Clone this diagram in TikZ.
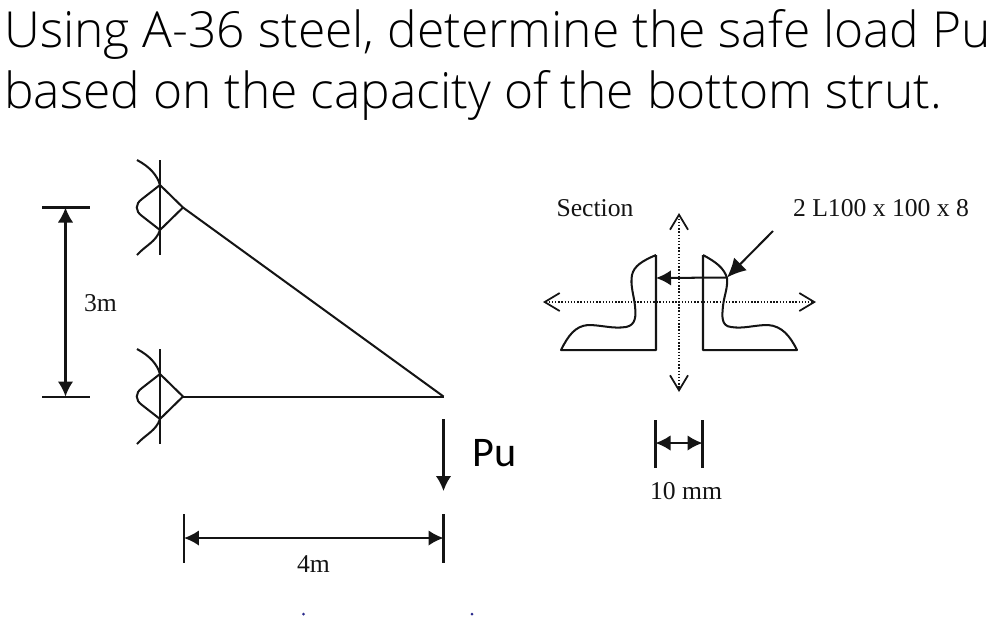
\documentclass[tikz,border=0pt]{standalone}
\usepackage{fontspec}
\setmainfont{Liberation Serif}
\newfontfamily\headfont{Open Sans Light}
\newfontfamily\loadfont{Carlito}
\usetikzlibrary{arrows.meta}
\definecolor{inkblack}{HTML}{141414}
\definecolor{dotblue}{HTML}{2A2A8C}
\tikzset{
    member/.style={draw=inkblack, line width=1.15pt},
    thinline/.style={draw=inkblack, line width=1.15pt},
    dimarrow/.style={draw=inkblack, line width=1.15pt, {Latex[length=3mm,width=3.1mm]}-{Latex[length=3mm,width=3.1mm]}},
    axisline/.style={draw=inkblack, line width=0.8pt, densely dotted, {Straight Barb[length=3mm,width=3.6mm,line width=1pt]}-{Straight Barb[length=3mm,width=3.6mm,line width=1pt]}},
    loadarrow/.style={draw=inkblack, line width=1.15pt, -{Latex[length=3mm,width=3.1mm]}},
    leadarrow/.style={draw=inkblack, line width=1.15pt, -{Latex[length=3.8mm,width=3.6mm]}},
    headtext/.style={font=\headfont\fontsize{28.3}{29}\selectfont, anchor=base west, inner sep=0pt},
    labeltext/.style={font=\fontsize{14.6}{15}\selectfont, inner sep=0pt, text=inkblack}
}
\begin{document}
\begin{tikzpicture}[x=0.02cm, y=-0.02cm]
    \useasboundingbox (0,0) rectangle (997,620);

    % Heading
    \node[headtext] (lineone) at (4,47) {Using A-36 steel, determine the safe load Pu};
    \node[headtext] (linetwo) at (4,108) {based on the capacity of the bottom strut.};

    % Joints of the truss
    \coordinate (topjoint) at (183,207.5);
    \coordinate (botjoint) at (183,396.5);
    \coordinate (tip) at (443.5,396.5);
    \draw[member] (topjoint) -- (tip);
    \draw[member] (botjoint) -- (tip);

    % Supports
    \foreach \yy/\nm in {0/topsup, 189/botsup} {
        \draw[thinline, yshift=-\yy*0.02cm] (160,160) -- (160,255);
        \draw[thinline, yshift=-\yy*0.02cm] (137,160) .. controls (150,167) and (157,175) .. (160,185)
            -- (183,207.5) -- (160,230)
            .. controls (156,242) and (146,245) .. (137,255);
        \draw[thinline, yshift=-\yy*0.02cm] (160,185) -- (142,199)
            .. controls (135,204) and (135,211) .. (142,216) -- (160,230);
    }

    % Height
    \coordinate (hgttop) at (65.5,207.5);
    \coordinate (hgtbot) at (65.5,396.5);
    \draw[thinline] (42,207.5) -- (90,207.5);
    \draw[thinline] (42,396.5) -- (90,396.5);
    \draw[dimarrow] (hgttop) -- (hgtbot);
    \node[labeltext] (hgtlabel) at (100.5,303) {3m};

    % Load
    \coordinate (loadtop) at (443.5,419);
    \coordinate (loadbot) at (443.5,491);
    \draw[loadarrow] (loadtop) -- (loadbot);
    \node[font=\loadfont\fontsize{24}{24}\selectfont, anchor=base west, inner sep=0pt] (loadlabel) at (472,466) {Pu};

    % Span
    \coordinate (spanleft) at (184,538);
    \coordinate (spanright) at (443.5,538);
    \draw[thinline] (184,514) -- (184,563);
    \draw[thinline] (443.5,514) -- (443.5,563);
    \draw[dimarrow] (spanleft) -- (spanright);
    \node[labeltext] (spanlabel) at (313.5,564) {4m};

    % Section axes
    \coordinate (axtop) at (679,213);
    \coordinate (axbot) at (679,392);
    \coordinate (axleft) at (543,302);
    \coordinate (axright) at (816,302);
    \draw[axisline] (axtop) -- (axbot);
    \draw[axisline] (axleft) -- (axright);

    % Angles
    \draw[member, line join=round] (656,255) -- (656,350) -- (561,350)
        .. controls (568,336) and (575,326) .. (588,325)
        .. controls (602,325) and (612,329) .. (626,327)
        .. controls (636,325) and (636,316) .. (635,306)
        .. controls (634,296) and (630,285) .. (632,275)
        .. controls (634,266) and (642,261) .. (656,255);
    \draw[member, line join=round] (703,255) -- (703,350) -- (797,350)
        .. controls (790,336) and (782,326) .. (768,325)
        .. controls (754,325) and (744,329) .. (731,327)
        .. controls (721,326) and (722,316) .. (723,306)
        .. controls (724,296) and (728,288) .. (727,278)
        .. controls (724,268) and (716,262) .. (703,255);

    % Leaders
    \coordinate (leadstart) at (773,231);
    \coordinate (leadend) at (727,277.5);
    \coordinate (webend) at (656,278);
    \draw[leadarrow] (leadstart) -- (leadend);
    \draw[loadarrow] (leadend) -- (webend);
    \node[labeltext] (seclabel) at (595,208) {Section};
    \node[labeltext] (anglabel) at (881,208) {2 L100 x 100 x 8};

    % Gap
    \coordinate (gapleft) at (655.5,443);
    \coordinate (gapright) at (702.5,443);
    \draw[thinline] (655.5,420) -- (655.5,468);
    \draw[thinline] (702.5,420) -- (702.5,468);
    \draw[dimarrow] (gapleft) -- (gapright);
    \node[labeltext] (gaplabel) at (686,491) {10 mm};

    % Stray dots
    \fill[dotblue] (303.5,614) circle (1.5);
    \fill[dotblue] (472,614) circle (1.5);
\end{tikzpicture}
\end{document}
